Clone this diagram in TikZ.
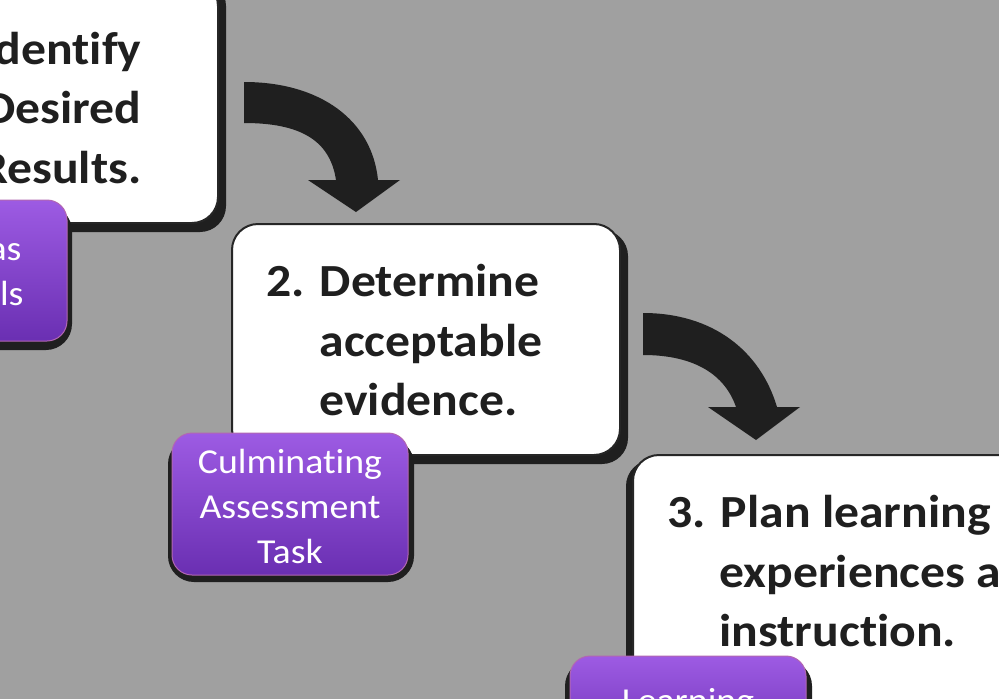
\documentclass[tikz,border=0pt]{standalone}
\usepackage{fontspec}
\setmainfont[Ligatures=NoCommon,FakeStretch=1.08]{Carlito}
\begin{document}
\begin{tikzpicture}[x=1pt,y=-1pt,
  wbox/.style={draw=black!85,line width=2pt,fill=white,rounded corners=26pt},
  shd/.style={fill=black!88,rounded corners=26pt},
  pbox/.style={draw=violet!60!white,line width=1pt,top color=purple1,bottom color=purple2,rounded corners=20pt},
  big/.style={font=\fontsize{46}{60}\selectfont\bfseries,text=black!88,anchor=base west},
  ptxt/.style={font=\fontsize{35}{45}\selectfont,text=white,anchor=base},
  arr/.style={fill=black!88}]
\definecolor{purple1}{HTML}{9D5BE3}
\definecolor{purple2}{HTML}{6A2FB2}
\useasboundingbox[fill={rgb,255:red,160;green,160;blue,160}] (0,0) rectangle (999,699);
\clip (0,0) rectangle (999,699);
% box 1
\fill[shd] (-80,-20) rectangle (226,232);
\draw[wbox] (-80,-20) rectangle (218,223);
\node[big,anchor=base east] (t1a) at (145,64) {Identify};
\node[big,anchor=base east] (t1b) at (145,123) {Desired};
\node[big,anchor=base east] (t1c) at (145,183) {Results.};
\fill[shd] (-80,205) rectangle (72,350);
\draw[pbox] (-80,200) rectangle (67,341);
\node[ptxt,anchor=base east] (p1a) at (25,260) {as};
\node[ptxt,anchor=base east] (p1b) at (27,305) {ls};
% arrow 1
\fill[arr] (244,82) .. controls (320,82) and (372,120) .. (378,180) -- (400,180) -- (356,212) -- (308,180) -- (336,180) .. controls (330,140) and (300,123) .. (244,123) -- cycle;
% box 2
\fill[shd] (238,230) rectangle (628,464);
\draw[wbox] (232,224) rectangle (620,455);
\node[big] (t2a) at (263,296) {2. Determine};
\node[big] (t2b) at (316,356) {acceptable};
\node[big] (t2c) at (316,415) {evidence.};
\fill[shd] (168,438) rectangle (414,582);
\draw[pbox] (172,433) rectangle (408,575);
\node[ptxt] (p2a) at (290,473) {Culminating};
\node[ptxt] (p2b) at (290,518) {Assessment};
\node[ptxt] (p2c) at (290,563) {Task};
% arrow 2
\fill[arr] (643,313) .. controls (712,313) and (760,350) .. (777,407) -- (800,407) -- (756,440) -- (708,407) -- (736,407) .. controls (725,375) and (695,355) .. (643,355) -- cycle;
% box 3
\fill[shd] (626,460) rectangle (1030,730);
\draw[wbox] (633,455) rectangle (1030,720);
\node[big] (t3a) at (664,527) {3. Plan learning};
\node[big] (t3b) at (716,587) {experiences a};
\node[big] (t3c) at (716,646) {instruction.};
\fill[shd] (565,660) rectangle (812,760);
\draw[pbox] (570,656) rectangle (806,760);
\node[ptxt] (p3a) at (688,712) {Learning};
\end{tikzpicture}
\end{document}
